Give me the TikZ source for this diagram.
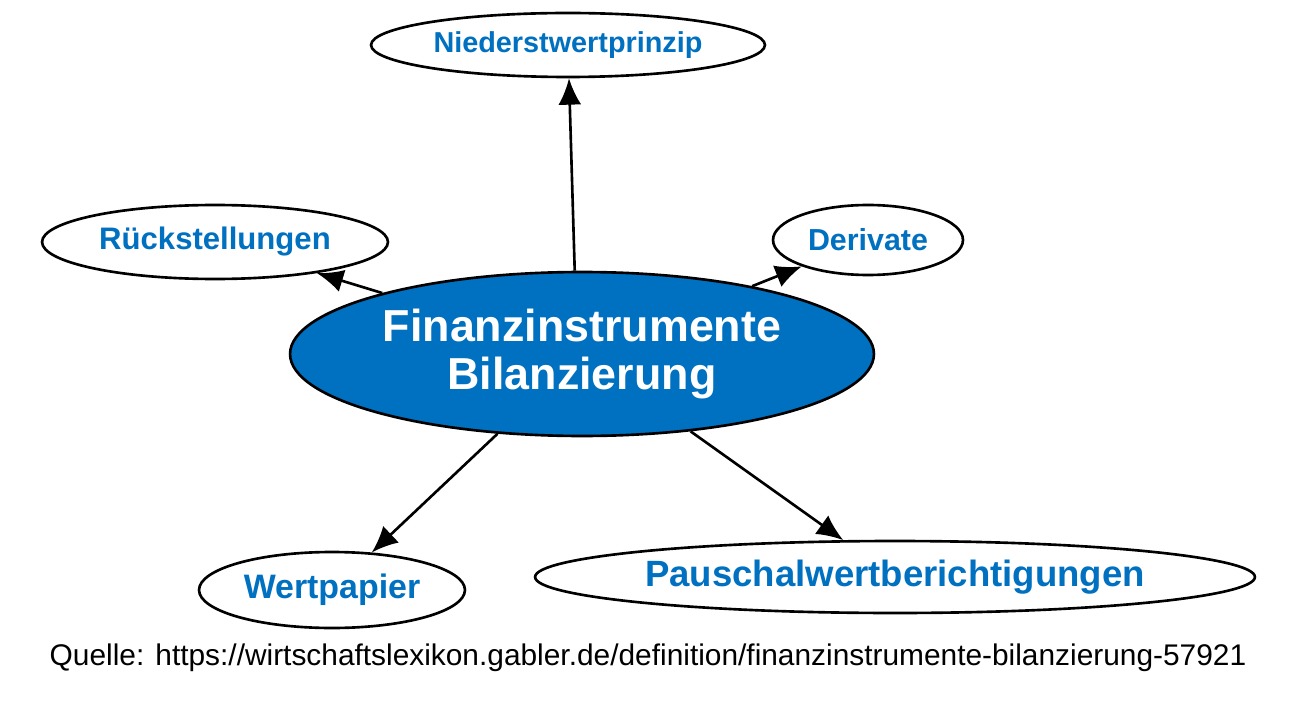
\documentclass[tikz,border=0pt]{standalone}
\usepackage{fontspec}
\setmainfont{Liberation Sans}
\usetikzlibrary{shapes.geometric,arrows.meta}
\definecolor{gablerblue}{HTML}{0070C0}
\tikzset{
  term/.style={ellipse, draw=black, line width=1.5pt, fill=white, text=gablerblue,
    font=\bfseries, inner sep=0pt},
  link/.style={-{Latex[length=15pt,width=13pt]}, line width=1.5pt}
}
\begin{document}
\begin{tikzpicture}[x=0.02cm,y=-0.02cm]
    \useasboundingbox [fill=white] (0,0) rectangle (1300,709);
    % main term
    \node [term, fill=gablerblue, text=white, font=\bfseries\fontsize{25.5}{27}\selectfont, align=center,
      minimum width=11.68cm, minimum height=3.28cm] (main) at (582,354) {Finanzinstrumente\\Bilanzierung};
    % related terms
    \node [term, minimum width=7.88cm, minimum height=1.28cm, font=\bfseries\fontsize{16.4}{18}\selectfont] (nwp) at (568,45) {Niederstwertprinzip};
    \node [term, minimum width=6.92cm, minimum height=1.48cm, font=\bfseries\fontsize{17.7}{19}\selectfont] (rst) at (215,242) {Rückstellungen};
    \node [term, minimum width=3.8cm, minimum height=1.4cm, font=\bfseries\fontsize{17.3}{19}\selectfont] (der) at (868,240) {Derivate};
    \node [term, minimum width=5.32cm, minimum height=1.52cm, font=\bfseries\fontsize{19.3}{21}\selectfont] (wpa) at (332,590) {Wertpapier};
    \node [term, minimum width=14.4cm, minimum height=1.44cm, font=\bfseries\fontsize{20.8}{22}\selectfont] (pwb) at (895,577) {Pauschalwertberichtigungen};
    \draw [link] (main.95) -- (nwp);
    \draw [link] (main) -- (rst);
    \draw [link] (main) -- (der);
    \draw [link] (main) -- (wpa);
    \draw [link] (main) -- (pwb);
    % source
    \node [font=\fontsize{17}{19}\selectfont] (src) at (648,658) {Quelle: https://wirtschaftslexikon.gabler.de/definition/finanzinstrumente-bilanzierung-57921};
\end{tikzpicture}
\end{document}
